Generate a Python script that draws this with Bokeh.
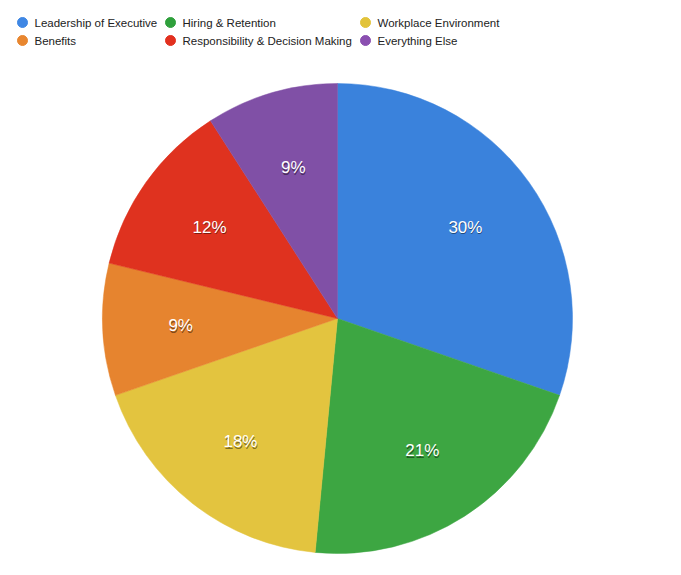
import math
from bokeh.plotting import figure
from bokeh.models import ColumnDataSource, Range1d
from bokeh.core.properties import value
from bokeh.embed import file_html
from bokeh.resources import INLINE

# ---- data ----
categories = ["Leadership of Executive", "Hiring & Retention", "Workplace Environment",
              "Benefits", "Responsibility & Decision Making", "Everything Else"]
percents = [30, 21, 18, 9, 12, 9]
labels = ["30%", "21%", "18%", "9%", "12%", "9%"]
colors = ["#3a82dc", "#3da642", "#e3c43f", "#e6842f", "#df321f", "#8050a6"]
legend_colors = ["#3f87e4", "#2fa03c", "#e2c33a", "#e8862f", "#e2301f", "#8a4fb0"]

# ---- layout (page pixel coordinates, y measured upward from bottom of 575px page) ----
W, H = 665, 559
OX, OY = 0, 0  # page offset of the figure
CX, CY = 337, 575 - 318
R = 235
LABEL_R = 157

total = float(sum(percents))
starts, ends, lx, ly = [], [], [], []
cum = 0.0
for v in percents:
    a0 = math.pi / 2 - 2 * math.pi * cum / total
    cum += v
    a1 = math.pi / 2 - 2 * math.pi * cum / total
    starts.append(a0)
    ends.append(a1)
    mid = (a0 + a1) / 2
    lx.append(CX + LABEL_R * math.cos(mid))
    ly.append(CY + LABEL_R * math.sin(mid))

src = ColumnDataSource(dict(start=starts, end=ends, color=colors, label=labels,
                            lx=lx, ly=ly, cat=categories))

p = figure(width=W, height=H, output_backend="svg", toolbar_location=None,
           x_range=Range1d(OX, OX + W), y_range=Range1d(575 - OY - H, 575 - OY),
           min_border=0, outline_line_color=None, background_fill_color="white",
           border_fill_color="white")
p.axis.visible = False
p.grid.visible = False

p.wedge(x=CX, y=CY, radius=R, radius_units="screen", start_angle="start", end_angle="end",
        direction="clock", fill_color="color", line_color="color", line_width=0.5, source=src)

# label shadow + label
p.text(x="lx", y="ly", text="label", source=src, text_align="center", text_baseline="middle",
       text_font=value("Liberation Sans"), text_font_size="17px", text_color="#000000",
       text_alpha=0.45, y_offset=1.5, x_offset=0.5)
p.text(x="lx", y="ly", text="label", source=src, text_align="center", text_baseline="middle",
       text_font=value("Liberation Sans"), text_font_size="17px", text_color="white")

# ---- legend (3 columns, row-major) ----
col_x = [22, 170, 365]
row_y = [22, 40]
dot_x, dot_y, txt_x = [], [], []
for i in range(len(categories)):
    c, r = i % 3, i // 3
    dot_x.append(col_x[c])
    dot_y.append(575 - row_y[r])
    txt_x.append(col_x[c] + 12)
lsrc = ColumnDataSource(dict(dx=dot_x, dy=dot_y, tx=txt_x, cat=categories, color=legend_colors))
p.scatter(x="dx", y="dy", size=10, marker="circle", fill_color="color", line_color="color",
          source=lsrc)
p.text(x="tx", y="dy", text="cat", source=lsrc, text_align="left", text_baseline="middle",
       text_font=value("Liberation Sans"), text_font_size="11.5px", text_color="#222222")

open("out.html", "w").write(file_html(p, INLINE))
